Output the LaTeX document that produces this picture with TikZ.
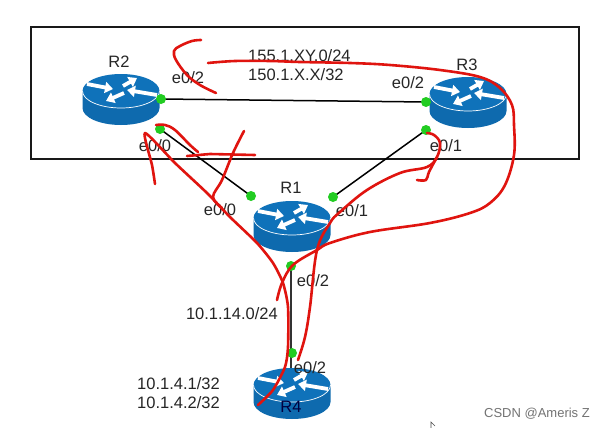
\documentclass[tikz,border=0pt]{standalone}
\usepackage{fontspec}
\setmainfont{Liberation Sans}
\usetikzlibrary{arrows.meta}
\definecolor{rblue}{HTML}{0F72BA}
\definecolor{rdark}{HTML}{0E6AAE}
\definecolor{pen}{HTML}{E0140F}
\definecolor{port}{HTML}{22CC22}
\tikzset{
  lbl/.style={font=\fontsize{16.5}{19}\selectfont,text=black!85,inner sep=0pt},
  portdot/.style={circle,fill=port,inner sep=0pt,minimum size=10pt},
  link/.style={line width=1.5pt,black},
  scribble/.style={pen,line width=2.6pt,line cap=round,line join=round},
  rarrow/.style={white,line width=3.8pt,-{Triangle[length=8pt,width=11pt]}},
}
\newcommand{\routerat}[3]{%
  \node[inner sep=0pt,minimum size=0pt] (#1) at (#2,#3) {};
  \begin{scope}[shift={(#2,#3)}]
    \fill[rdark] (-38.5,0) -- (-38.5,17) arc[x radius=38.5,y radius=17,start angle=180,end angle=0] -- (38.5,0) -- cycle;
    \fill[rblue] (0,0) ellipse[x radius=38.5,y radius=17];
    \draw[white,line width=0.7pt] (-38.5,0) arc[x radius=38.5,y radius=17,start angle=180,end angle=0];
    \draw[rarrow] (-34,-7) -- (-8,-2);
    \draw[rarrow] (2,-5) -- (16,-13);
    \draw[rarrow] (36,4) -- (6,-1);
    \draw[rarrow] (3,2) -- (-15,10);
  \end{scope}}
\begin{document}
\begin{tikzpicture}[x=1pt,y=-1pt]
\useasboundingbox (0,0) rectangle (602,428);
\fill[white] (0,0) rectangle (602,428);
\draw[line width=1.5pt,black!90] (31,27) rectangle (579,159);
\routerat{R2}{121}{91}
\routerat{R3}{468}{94}
\routerat{R1}{292}{218}
\routerat{R4}{292}{385}
\coordinate (p2a) at (161,99);
\coordinate (p2b) at (160,129);
\coordinate (p1a) at (251,196);
\coordinate (p1b) at (333,197);
\coordinate (p3a) at (426,102);
\coordinate (p3b) at (426,130);
\coordinate (p1c) at (291,266);
\coordinate (p4a) at (292,353);
\draw[link] (p2a) -- (p3a);
\draw[link] (p2b) -- (p1a);
\draw[link] (p3b) -- (p1b);
\draw[link,line width=2pt,black!80] (p1c) -- (291,368);
\foreach \p in {p2a,p2b,p1a,p1b,p3a,p3b,p1c,p4a} \node[portdot] at (\p) {};
\node[lbl] at (119,62) {R2};
\node[lbl] at (467,65) {R3};
\node[lbl] at (291,188) {R1};
\node[lbl,text=black!75!blue] at (291,407) {R4};
\node[lbl] at (188,78) {e0/2};
\node[lbl] at (408,83) {e0/2};
\node[lbl] at (155,146) {e0/0};
\node[lbl] at (446,146) {e0/1};
\node[lbl] at (220,210) {e0/0};
\node[lbl] at (352,211) {e0/1};
\node[lbl] at (313,281) {e0/2};
\node[lbl] at (310,368) {e0/2};
\node[lbl,anchor=west] at (248,56) {155.1.XY.0/24};
\node[lbl,anchor=west] at (248,75) {150.1.X.X/32};
\node[lbl,anchor=east] at (278,314) {10.1.14.0/24};
\node[lbl,anchor=west] at (137,384) {10.1.4.1/32};
\node[lbl,anchor=west] at (137,403) {10.1.4.2/32};
\node[font=\fontsize{13}{15}\selectfont,text=black!55,anchor=east,inner sep=0pt] at (590,414) {CSDN @Ameris Z};
% red pen strokes
\draw[scribble] plot[smooth,tension=0.6] coordinates {(201,40) (192,41) (180,46) (174,51) (176,60) (187,75) (200,85) (216,93)};
\draw[scribble] plot[smooth,tension=0.6] coordinates {(208,63) (235,61) (270,61) (300,62) (350,63) (390,65) (440,70) (480,77) (500,88) (512,105) (514,125) (514,155) (505,185) (490,203) (470,213) (430,223) (370,232) (330,243) (317,250) (293,265) (282,283) (277,300)};
\draw[scribble] plot[smooth,tension=0.6] coordinates {(156,125) (165,125) (175,130) (190,145) (198,152)};
\draw[scribble] (187,156) -- (210,154) -- (255,155);
\draw[scribble] plot[smooth,tension=0.6] coordinates {(244,131) (233,153) (222,180) (213,197) (222,208)};
\draw[scribble] plot[smooth,tension=0.4] coordinates {(155,184) (152,165) (145,133) (175,163) (207,193) (230,217) (257,243) (273,263) (283,283) (288,307) (288,347) (285,367) (273,390) (258,405)};
\draw[scribble] plot[smooth,tension=0.6] coordinates {(427,133) (434,135) (440,143) (437,157) (427,167) (400,173) (367,190) (340,212) (330,223) (317,250) (310,307) (305,337) (298,360)};
\draw[scribble] plot[smooth,tension=0.6] coordinates {(437,157) (429,172) (426,180) (417,180)};
% cursor
\draw[black!70,line width=0.6pt] (431,428) -- (431,422) -- (435,426);
\end{tikzpicture}
\end{document}
